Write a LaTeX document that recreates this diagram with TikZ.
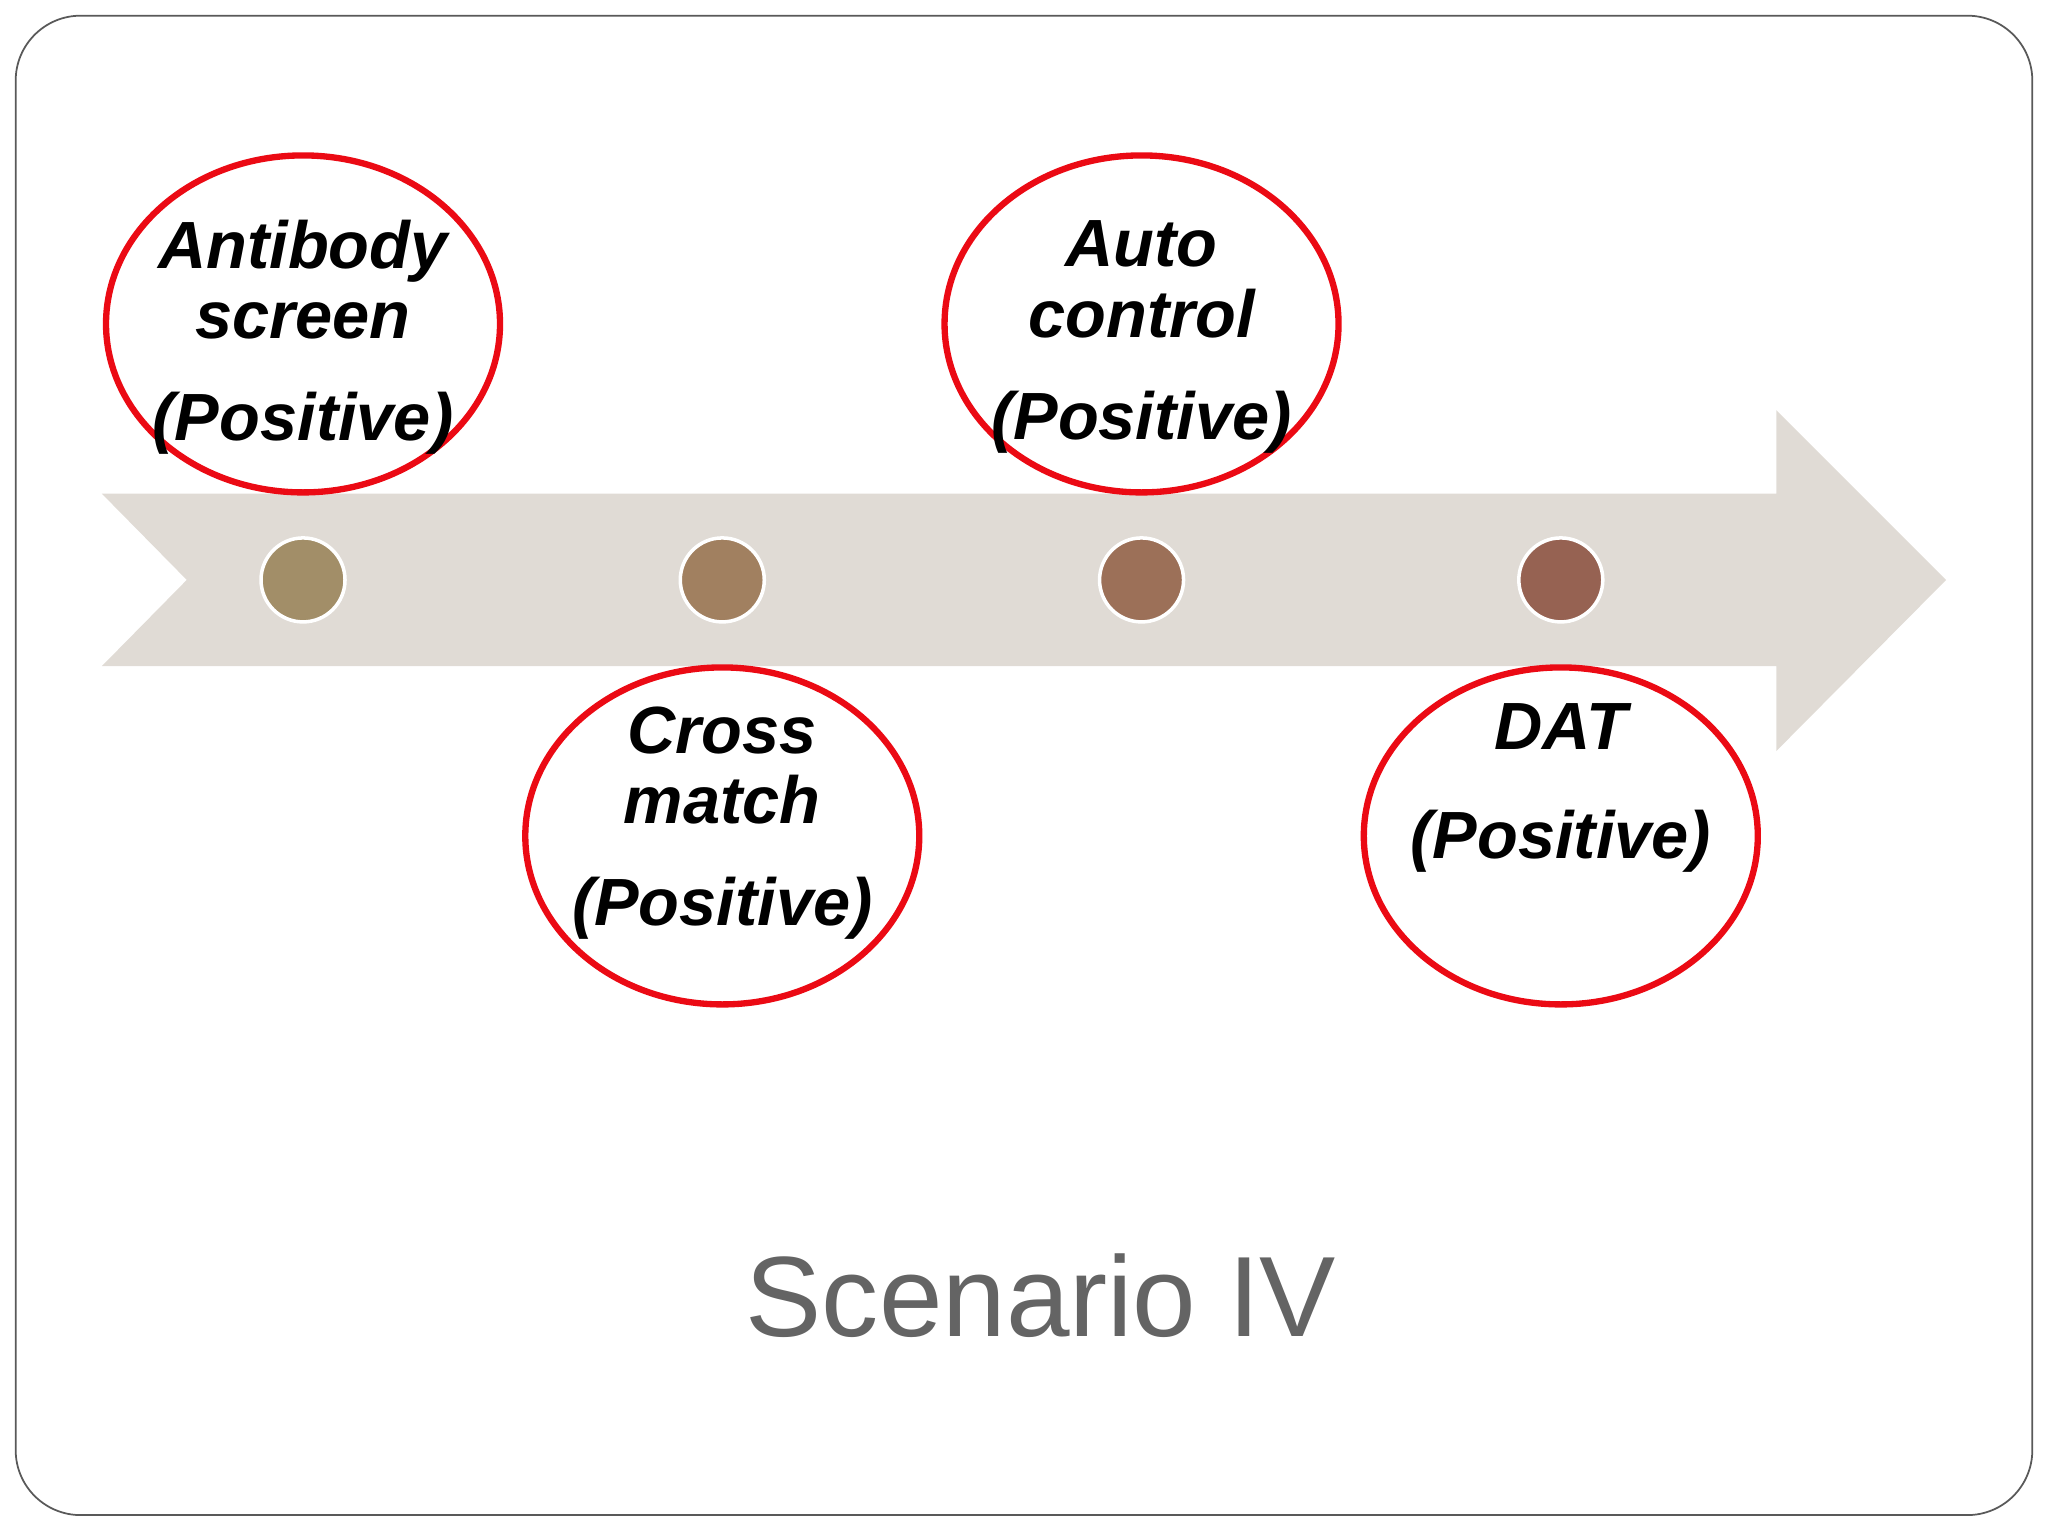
\documentclass[tikz,border=0pt]{standalone}
\usepackage{fontspec}
\setmainfont{Liberation Sans}
\usetikzlibrary{shapes.geometric}
\definecolor{band}{RGB}{224,219,213}
\definecolor{ringred}{RGB}{235,10,20}
\definecolor{titlegray}{RGB}{100,100,100}
\definecolor{dotA}{RGB}{162,142,104}
\definecolor{dotB}{RGB}{161,128,96}
\definecolor{dotC}{RGB}{156,112,88}
\definecolor{dotD}{RGB}{150,98,82}
\tikzset{
	testring/.style={ellipse,draw=ringred,line width=1.8pt,fill=white,minimum width=3.94cm,minimum height=3.37cm,inner sep=0pt},
	testtext/.style={align=center,font=\fontsize{19}{20}\selectfont\bfseries\itshape},
	dot/.style={circle,draw=white,line width=1pt,minimum size=0.84cm,inner sep=0pt}
}
\begin{document}
\begin{tikzpicture}[x=0.01306cm,y=-0.01306cm]
	\useasboundingbox (0,0) rectangle (1568,1172);
	\draw[gray!70!black,line width=0.5pt,rounded corners=0.65cm] (12,12) rectangle (1556,1160);
	% timeline arrow
	\fill[band] (78,378) -- (1360,378) -- (1360,314) -- (1490,444) -- (1360,575) -- (1360,510) -- (78,510) -- (143,444) -- cycle;
	\node[dot,fill=dotA] (d1) at (232,444) {};
	\node[dot,fill=dotB] (d2) at (553,444) {};
	\node[dot,fill=dotC] (d3) at (874,444) {};
	\node[dot,fill=dotD] (d4) at (1195,444) {};
	% tests
	\node[testring] (screen) at (232,248) {};
	\node[testring] (cross) at (553,640) {};
	\node[testring] (auto) at (874,248) {};
	\node[testring] (dat) at (1195,640) {};
	\node[testtext] (screenT) at (232,258) {Antibody\\screen\\[9pt](Positive)};
	\node[testtext] (crossT) at (553,630) {Cross\\match\\[9pt](Positive)};
	\node[testtext] (autoT) at (874,258) {Auto\\control\\[9pt](Positive)};
	\node[testtext] (datT) at (1195,603) {DAT\\[11pt](Positive)};
	\node[font=\fontsize{32.5}{38}\selectfont,text=titlegray] (title) at (797,992) {Scenario IV};
\end{tikzpicture}
\end{document}
